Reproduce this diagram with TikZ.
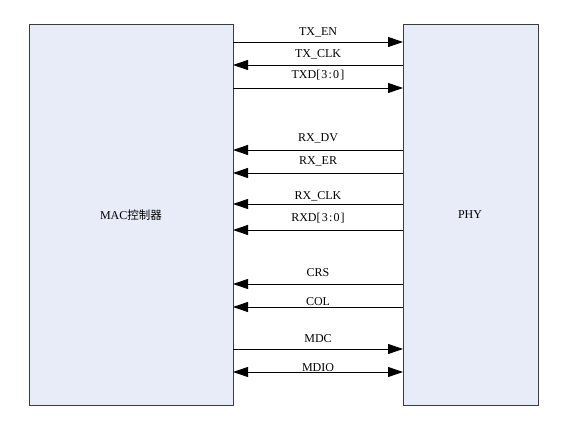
\documentclass[tikz,border=0pt]{standalone}
\usepackage{fontspec}
\setmainfont{Liberation Serif}
\newfontfamily\cjk{Noto Sans CJK SC}
\usetikzlibrary{arrows.meta}
\definecolor{boxfill}{RGB}{232,236,248}
\definecolor{boxline}{RGB}{60,60,60}
\newcommand{\bsp}{\kern1.2pt}
\tikzset{
  blk/.style={draw=boxline, line width=1pt, fill=boxfill},
  sig/.style={line width=0.9pt, -{Triangle[length=15pt,width=10pt]}},
  sigb/.style={line width=0.9pt, {Triangle[length=15pt,width=10pt]}-{Triangle[length=15pt,width=10pt]}},
  lbl/.style={font=\fontsize{12}{12}\selectfont, inner sep=0pt, anchor=base},
}
\begin{document}
\begin{tikzpicture}[x=1pt,y=-1pt]
\useasboundingbox (0,0) rectangle (584,430);
\draw[blk] (29,25) rectangle (233,406);
\draw[blk] (403,25) rectangle (538,406);
\node[font=\fontsize{12}{12}\selectfont] (mac) at (131,215) {MAC{\cjk\fontsize{11.5}{12}\selectfont 控制器}};
\node[font=\fontsize{12}{12}\selectfont] (phy) at (470,215) {PHY};
% coordinates on box edges
\foreach \n/\y in {txen/42,txclk/65,txd/88,rxdv/150,rxer/173,rxclk/204,rxd/230,crs/284,col/307,mdc/349,mdio/372}{
  \coordinate (L\n) at (233,\y);
  \coordinate (R\n) at (403,\y);
}
\draw[sig] (Ltxen) -- (Rtxen);
\draw[sig] (Rtxclk) -- (Ltxclk);
\draw[sig] (Ltxd) -- (Rtxd);
\draw[sig] (Rrxdv) -- (Lrxdv);
\draw[sig] (Rrxer) -- (Lrxer);
\draw[sig] (Rrxclk) -- (Lrxclk);
\draw[sig] (Rrxd) -- (Lrxd);
\draw[sig] (Rcrs) -- (Lcrs);
\draw[sig] (Rcol) -- (Lcol);
\draw[sig] (Lmdc) -- (Rmdc);
\draw[sigb] (Lmdio) -- (Rmdio);
\node[lbl] (t1) at (318,36) {TX\_EN};
\node[lbl] (t2) at (318,58) {TX\_CLK};
\node[lbl] (t3) at (318,79) {TXD[\bsp3\bsp:\bsp0\bsp]};
\node[lbl] (t4) at (318,142) {RX\_DV};
\node[lbl] (t5) at (318,165) {RX\_ER};
\node[lbl] (t6) at (318,200) {RX\_CLK};
\node[lbl] (t7) at (318,222) {RXD[\bsp3\bsp:\bsp0\bsp]};
\node[lbl] (t8) at (318,277) {CRS};
\node[lbl] (t9) at (318,306) {COL};
\node[lbl] (t10) at (318,343) {MDC};
\node[lbl] (t11) at (318,372) {MDIO};
\end{tikzpicture}
\end{document}
